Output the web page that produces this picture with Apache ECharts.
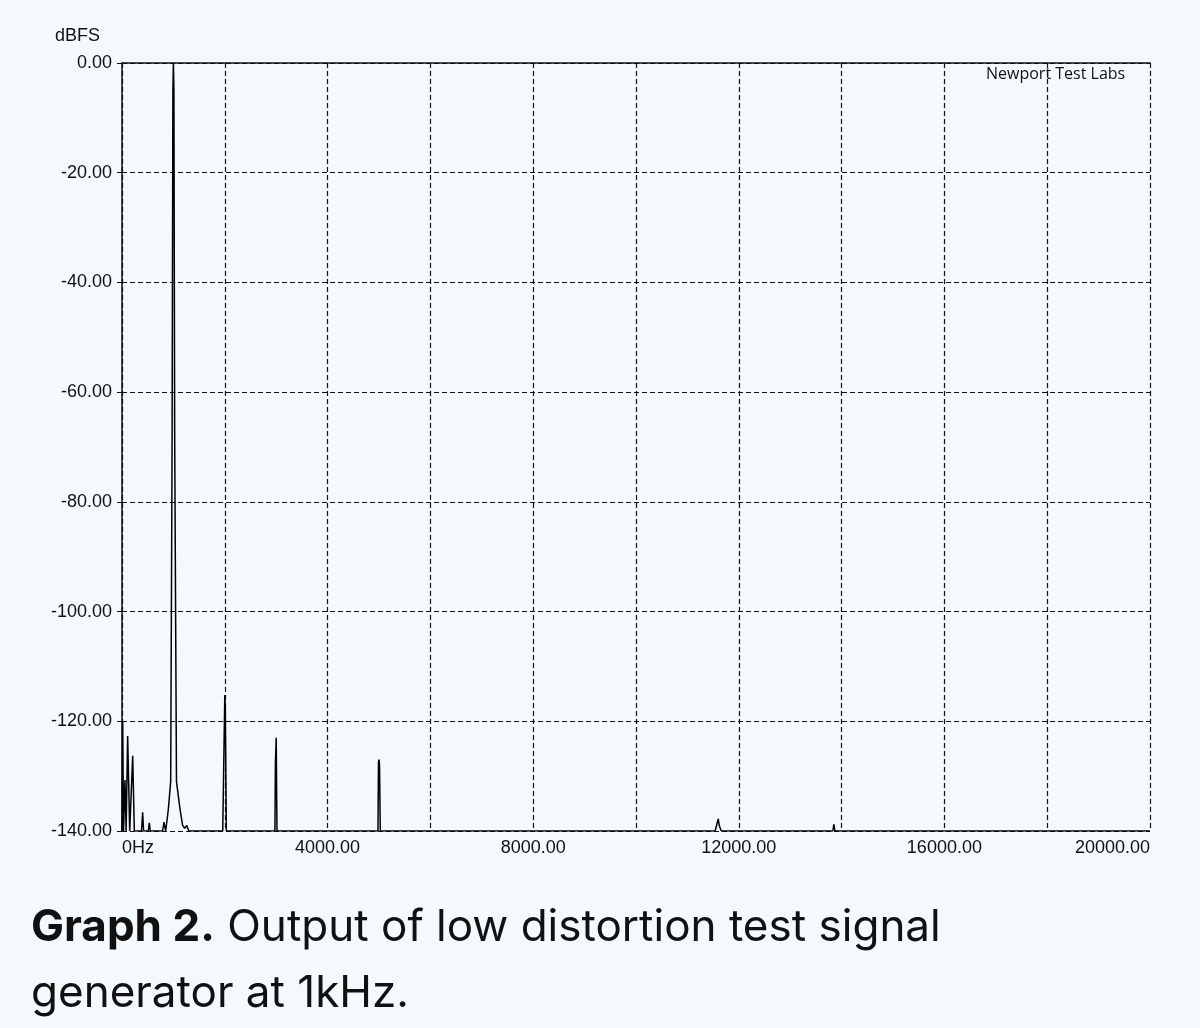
<!DOCTYPE html>
<html>
<head>
    <meta charset="utf-8">
    <title>Graph 2</title>
    <script src="https://cdn.jsdelivr.net/npm/echarts/dist/echarts.min.js"></script>
    <style>
        body { margin: 0; background: #f3f9fd; }
    </style>
</head>
<body>
    <div id="main" style="width: 1200px;height:1028px;"></div>
    <script>
        // spectrum, frequency in Hz and level in dBFS
        var freqs = [0, 13, 30, 58, 80, 110, 150, 208, 240, 380, 402, 420, 510, 532, 550,
            790, 817, 850, 902, 947, 975, 990, 1000, 1010, 1025, 1060, 1096, 1129, 1180, 1220, 1260, 1300,
            1960, 1985, 2000, 2010, 2030,
            2975, 2985, 3000, 3015,
            4980, 4990, 5000, 5010, 5025,
            11540, 11580, 11600, 11620, 11660,
            13830, 13850, 13870,
            20000];
        var levels = [-140, -120, -140, -130.7, -140, -122.7, -140, -126.3, -140, -140, -136.6, -140, -140, -138.5, -140,
            -140, -138.4, -140, -136, -131, -68, -5, 0, -5, -68, -131, -131, -136, -139, -139.5, -139, -140,
            -140, -140, -115.2, -118, -140,
            -140, -127.5, -123, -140,
            -140, -127.5, -127, -128, -140,
            -140, -138.5, -137.8, -139, -140,
            -140, -138.8, -140,
            -140];
        var caption = ['Graph 2.', ' Output of low distortion test signal', 'generator at 1kHz.'];

        var points = freqs.map(function (f, i) { return [f, levels[i]]; });
        var labelFont = { fontFamily: 'Liberation Sans', fontSize: 18, color: '#111' };

        var chart = echarts.init(document.getElementById('main'));
        var option = {
            backgroundColor: '#f3f9fd',
            animation: false,
            grid: { left: 122, right: 50, top: 63, bottom: 197 },
            title: {
                left: 26,
                top: 890,
                text: '{b|' + caption[0] + '}{n|' + caption[1] + '}\n{n|' + caption[2] + '}',
                textStyle: {
                    fontWeight: 'normal',
                    rich: {
                        b: { fontFamily: 'Inter', fontWeight: 'bold', fontSize: 44, color: '#111', lineHeight: 66 },
                        n: { fontFamily: 'Inter', fontWeight: 'normal', fontSize: 44, color: '#111', lineHeight: 66 }
                    }
                }
            },
            graphic: [
                { type: 'text', left: 986, top: 66,
                  style: { text: 'Newport Test Labs', font: '16px "Open Sans"', fill: '#111' } },
                { type: 'text', left: 55, top: 27,
                  style: { text: 'dBFS', font: '18px "Liberation Sans"', fill: '#111' } }
            ],
            xAxis: {
                type: 'value',
                min: 0, max: 20000, interval: 2000,
                axisLine: { lineStyle: { color: '#111', width: 1.5 } },
                axisTick: { show: false },
                splitLine: { lineStyle: { color: '#111', type: [5, 3], width: 1.2 } },
                axisLabel: Object.assign({
                    margin: 8,
                    alignMinLabel: 'left',
                    alignMaxLabel: 'right',
                    formatter: function (v) {
                        if (v === 0) return '0Hz';
                        return v % 4000 === 0 ? v.toFixed(2) : '';
                    }
                }, labelFont)
            },
            yAxis: {
                type: 'value',
                min: -140, max: 0, interval: 20,
                axisLine: { show: true, lineStyle: { color: '#111', width: 1.5 } },
                axisTick: { show: true, length: 5, lineStyle: { color: '#111' } },
                splitLine: { lineStyle: { color: '#111', type: [5, 3], width: 1.2 } },
                axisLabel: Object.assign({
                    margin: 10,
                    formatter: function (v) { return v.toFixed(2); }
                }, labelFont)
            },
            series: [{
                type: 'line',
                data: points,
                showSymbol: false,
                lineStyle: { color: '#000', width: 1.5 }
            }]
        };
        chart.setOption(option);
    </script>
</body>
</html>
